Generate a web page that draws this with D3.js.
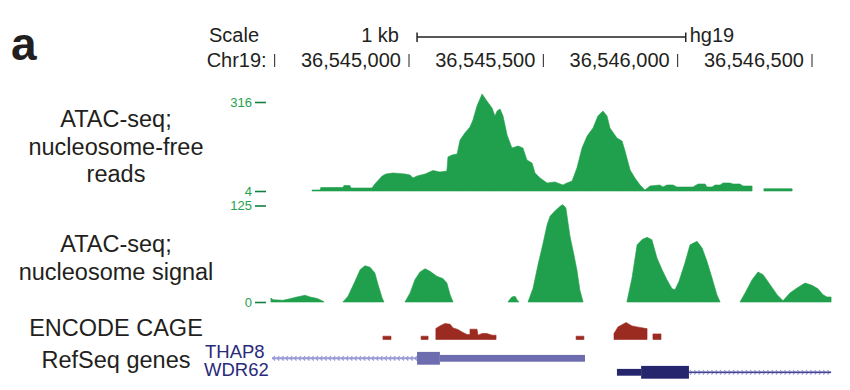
<!DOCTYPE html>
<html><head><meta charset="utf-8">
<script src="https://cdn.jsdelivr.net/npm/d3@7"></script>
<style>body{margin:0;background:#fff}svg{display:block;font-family:"Liberation Sans",Arial,Helvetica,sans-serif}</style>
</head><body><div id="chart"></div>
<script>
// ---------------- DATA ----------------
const chrTicks = [36544500, 36545000, 36545500, 36546000, 36546500];
const chrTickLabels = ["Chr19:", "36,545,000", "36,545,500", "36,546,000", "36,546,500"];
const scaleBar = [36545030, 36546030]; // 1 kb
const trackLabels1 = ["ATAC-seq;", "nucleosome-free", "reads"];
const trackLabels2 = ["ATAC-seq;", "nucleosome signal"];
const atac1Ticks = [316, 4];
const atac2Ticks = [125, 0];

// ATAC-seq nucleosome-free reads [position, value]; null = gap
const nfrPos = [36544639,36544669,36544672,36544754,36544758,36544780,36544784,36544862,36544873,36544900,36544914,36544940,36544985,36545004,36545015,36545030,36545060,36545089,36545115,36545141,36545145,36545160,36545179,36545190,36545208,36545227,36545238,36545253,36545272,36545290,36545309,36545320,36545328,36545339,36545350,36545365,36545383,36545406,36545424,36545439,36545458,36545469,36545488,36545514,36545543,36545573,36545588,36545607,36545625,36545644,36545663,36545685,36545703,36545722,36545737,36545748,36545774,36545793,36545804,36545823,36545841,36545860,36545878,36545897,36545934,36545945,36545960,36545983,36545997,36546057,36546076,36546102,36546109,36546128,36546139,36546158,36546169,36546195,36546206,36546232,36546243,36546277,null,36546321,36546426];
const nfrVal = [7.5,7.5,16.3,16.3,23.3,23.3,14.5,14.5,28.5,56.6,63.6,67.1,63.6,60.1,49.6,56.6,63.6,75.9,70.6,74.1,123.2,130.2,133.7,182.8,207.3,228.4,252.9,302,344,319.5,295,267,284.4,291.5,267,200.3,154.7,161.7,154.7,112.7,102.2,67.1,49.6,32,35.6,25,32,39,84.6,154.7,196.8,224.9,267,284.4,267,224.9,189.8,179.3,144.2,77.6,49.6,25,7.5,21.5,25,18,25,25,18,18,28.5,28.5,18,18,25,25,32,32,28.5,28.5,21.5,21.5,null,12,12];

// ATAC-seq nucleosome signal
const nucPos = [36544486,36544486,36544494,36544531,36544557,36544583,36544613,36544632,36544650,36544661,36544680,36544684,null,
  36544754,36544773,36544799,36544818,36544836,36544855,36544873,36544885,36544900,36544907,null,
  36544985,36545004,36545022,36545041,36545060,36545078,36545104,36545127,36545141,36545153,36545164,null,
  36545368,36545383,36545395,36545402,36545409,null,
  36545443,36545462,36545480,36545499,36545514,36545525,36545543,36545566,36545573,36545584,36545599,36545614,36545625,36545636,36545648,null,
  36545811,36545830,36545849,36545867,36545886,36545904,36545923,36545942,36545960,36545979,36545990,36546005,36546027,36546046,36546072,36546091,36546109,36546128,36546146,36546158,null,
  36546232,36546251,36546277,36546299,36546318,36546344,36546370,36546392,36546418,36546444,36546474,36546500,36546522,36546541,36546556,36546571,36546571];
const nucVal = [0,5.2,3,2.2,4.3,6.5,8.7,6.5,5.2,4.3,1,0,null,
  0,7.4,26.8,41.8,47,45,37.6,22.4,5.2,0,null,
  0,11.7,28.9,38.9,43.1,39.8,33.3,30.2,24.6,9.5,0,null,
  0,6.5,7.4,3,0,null,
  0,18,48,76,100,111,118,125,126,121.8,85.5,60.9,41.4,15.5,0,null,
  0,31,74,80.7,83.8,80.7,57,41.8,28.9,17.2,16,26.8,50.5,74,78.6,70,52.7,31,9.5,0,null,
  0,11.7,28.9,38.9,35.4,22.4,9.5,1.7,11.7,18,24.6,21.6,17.2,9.5,6.5,6.5,0];

// ENCODE CAGE
const cagePos = [36544903,36544903,36544933,36544933,null,36545045,36545045,36545071,36545071,null,
  36545100,36545100,36545115,36545134,36545153,36545164,36545182,36545197,36545216,36545227,36545227,36545253,36545257,36545272,36545290,36545309,36545324,36545324,null,
  36545622,36545622,36545651,36545651,null,
  36545763,36545763,36545778,36545808,36545830,36545849,36545882,36545886,36545886,null,
  36545908,36545908,36545938,36545938];
const cageVal = [0,3.3,3.3,0,null,0,3.3,3.3,0,null,
  0,11,13.6,16,15.3,11.6,10,7.6,5,5,10.3,10.3,4.3,6,6,4.3,4.3,0,null,
  0,3.3,3.3,0,null,
  0,6,12.6,17,13.6,12.6,11,11,0,null,
  0,5.6,5.6,0];

// RefSeq genes
const geneNames = ["THAP8", "WDR62"];
const geneStrand = ["-", "+"];
const geneIntron = [[36544490, 36545030], [36546042, 36546571]];
const geneThin = [[36545115, 36545655], [36545774, 36545864]];
const geneThick = [[36545030, 36545115], [36545864, 36546042]];

// ---------------- DRAW ----------------
const W = 850, H = 390;
const svg = d3.select("#chart").append("svg").attr("width", W).attr("height", H);
svg.append("rect").attr("width", W).attr("height", H).attr("fill", "#fff");
const ink = "#231f20";
const green = "#20a04c", tickGreen = "#118040", labelGreen = "#24a24e";

const x = d3.scaleLinear().domain([36545000, 36546500]).range([409, 812]);

// panel letter
svg.append("text").attr("x", 11).attr("y", 60).attr("font-size", 46).attr("font-weight", "bold").attr("fill", ink).text("a");

// scale row
svg.append("text").attr("x", 209).attr("y", 42).attr("font-size", 20).attr("fill", ink).text("Scale");
svg.append("text").attr("x", 399).attr("y", 42).attr("font-size", 20).attr("text-anchor", "end").attr("fill", ink).text("1 kb");
const sb = svg.append("g").attr("stroke", ink).attr("stroke-width", 1.5);
sb.append("line").attr("x1", x(scaleBar[0])).attr("x2", x(scaleBar[1])).attr("y1", 37).attr("y2", 37);
scaleBar.forEach(p => sb.append("line").attr("x1", x(p)).attr("x2", x(p)).attr("y1", 32.5).attr("y2", 42));
svg.append("text").attr("x", x(scaleBar[1]) + 4).attr("y", 42).attr("font-size", 20).attr("fill", ink).text("hg19");

// chromosome ruler
const rul = svg.append("g");
chrTicks.forEach((t, i) => {
  rul.append("line").attr("x1", x(t)).attr("x2", x(t)).attr("y1", 54).attr("y2", 67).attr("stroke", ink).attr("stroke-width", 1);
  rul.append("text").attr("x", x(t) - 8).attr("y", 67).attr("font-size", 20).attr("text-anchor", "end").attr("fill", ink).text(chrTickLabels[i]);
});

// track labels
function labelLines(lines, baselines) {
  lines.forEach((t, i) => svg.append("text").attr("x", 116).attr("y", baselines[i]).attr("text-anchor", "middle").attr("font-size", 23.5).attr("fill", ink).text(t));
}
labelLines(trackLabels1, [127, 154.5, 182]);
labelLines(trackLabels2, [252, 279.5]);
labelLines(["ENCODE CAGE"], [335.5]);
labelLines(["RefSeq genes"], [368]);

// axes for ATAC tracks
function yAxis(y, ticks) {
  const g = svg.append("g").attr("transform", "translate(266,0)")
    .call(d3.axisLeft(y).tickValues(ticks).tickSize(11).tickPadding(3).tickFormat(d3.format("d")));
  g.select(".domain").remove();
  g.selectAll(".tick line").attr("stroke", tickGreen).attr("stroke-width", 1.6);
  g.selectAll(".tick text").attr("fill", labelGreen).attr("font-size", 13).attr("font-family", '"Liberation Sans",Arial,sans-serif');
}

const y1 = d3.scaleLinear().domain([4, 316]).range([191, 102]);
const y2 = d3.scaleLinear().domain([0, 125]).range([302, 205.5]);
const yc = d3.scaleLinear().domain([0, 18]).range([339.5, 321.5]);
yAxis(y1, atac1Ticks);
yAxis(y2, atac2Ticks);

function drawArea(pos, val, y, base, color) {
  const data = pos.map((p, i) => [p, val[i]]);
  const area = d3.area()
    .defined(d => d[0] !== null && d[1] !== null)
    .x(d => x(d[0])).y0(y(base)).y1(d => y(d[1]));
  svg.append("path").datum(data).attr("d", area).attr("fill", color).attr("stroke", color).attr("stroke-width", 0.6);
}
drawArea(nfrPos, nfrVal, y1, 4, green);
drawArea(nucPos, nucVal, y2, 0, green);
drawArea(cagePos, cageVal, yc, 0, "#9b2a20");

// genes
const geneColor = ["#6c6cae", "#25256e"];
const geneY = [358.3, 372.3];
const hatch = "#9a9ad6";
geneNames.forEach((name, i) => {
  const g = svg.append("g");
  const yc0 = geneY[i];
  const [a, b] = geneIntron[i];
  g.append("line").attr("x1", x(a)).attr("x2", x(b)).attr("y1", yc0).attr("y2", yc0)
    .attr("stroke", hatch).attr("stroke-width", 2);
  const step = 4.3;
  let p = "";
  for (let xx = x(a) + 1; xx < x(b) - 1; xx += step) {
    if (geneStrand[i] === "-") p += `M${xx + 2},${yc0 - 2.2}L${xx},${yc0}L${xx + 2},${yc0 + 2.2}`;
    else p += `M${xx},${yc0 - 2.2}L${xx + 2},${yc0}L${xx},${yc0 + 2.2}`;
  }
  g.append("path").attr("d", p).attr("fill", "none").attr("stroke", hatch).attr("stroke-width", 1.2);
  if (i === 1) g.append("line").attr("x1", x(a)).attr("x2", x(b)).attr("y1", yc0).attr("y2", yc0)
    .attr("stroke", geneColor[i]).attr("stroke-width", 0.9);
  const [ta, tb] = geneThin[i];
  g.append("rect").attr("x", x(ta)).attr("width", x(tb) - x(ta)).attr("y", yc0 - 3.4).attr("height", 6.8).attr("fill", geneColor[i]);
  const [ka, kb] = geneThick[i];
  g.append("rect").attr("x", x(ka)).attr("width", x(kb) - x(ka)).attr("y", yc0 - 6.4).attr("height", 12.8).attr("fill", geneColor[i]);
});
svg.append("text").attr("x", 205).attr("y", 357.5).attr("font-size", 18.5).attr("fill", "#2a2a7a").text(geneNames[0]);
svg.append("text").attr("x", 204).attr("y", 375.5).attr("font-size", 18.5).attr("fill", "#2a2a7a").text(geneNames[1]);
</script>
</body></html>
